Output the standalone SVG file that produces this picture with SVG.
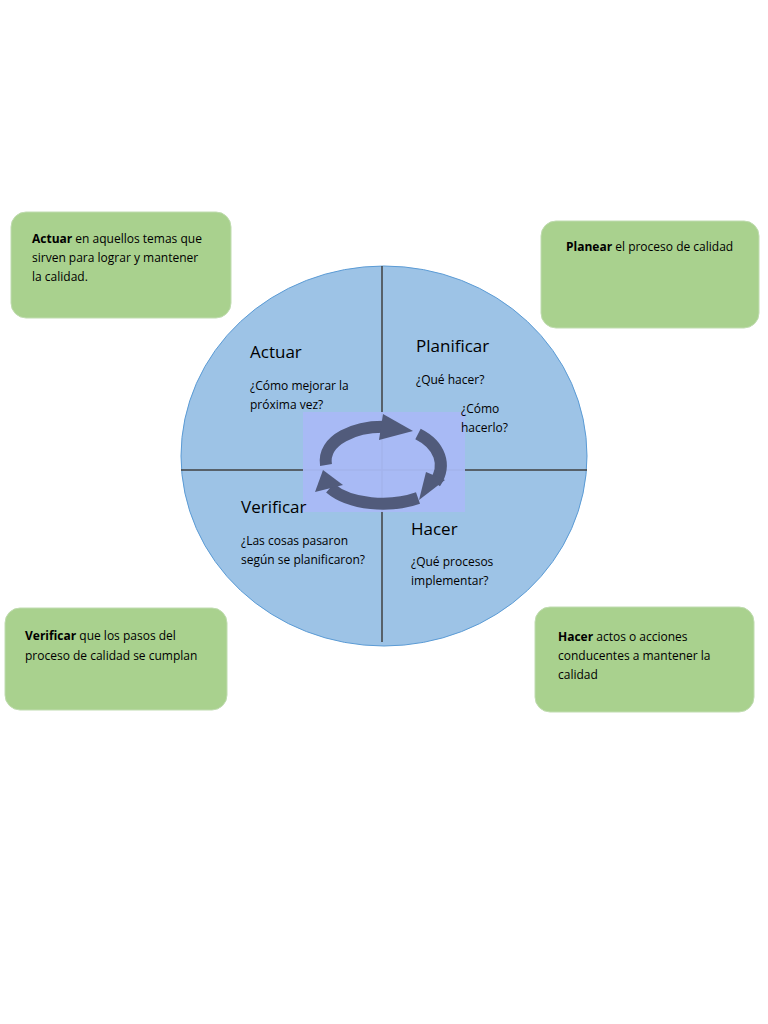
<svg xmlns="http://www.w3.org/2000/svg" width="768" height="1024" viewBox="0 0 768 1024">
<style>
.box{fill:#a9d18e;stroke:#c0dcb0;stroke-width:1}
.t{font-family:"Open Sans","Liberation Sans",sans-serif;font-size:12px;fill:#000}
.h{font-family:"Open Sans","Liberation Sans",sans-serif;font-size:17px;fill:#000}
.arc{fill:none;stroke:#515b7b;stroke-width:12}
.head{fill:#515b7b}
</style>
<rect width="768" height="1024" fill="#fff"/>
<g id="circle">
<ellipse cx="384" cy="456" rx="203" ry="190" fill="#9dc3e6" stroke="#5b9bd5" stroke-width="1"/>
<line x1="382" y1="266" x2="382" y2="642" stroke="#404040" stroke-width="1.5"/>
<line x1="181" y1="470" x2="587" y2="470" stroke="#404040" stroke-width="1.5"/>
</g>
<g id="center">
<rect x="303" y="412" width="162" height="100" fill="#a9b9f5" opacity="0.95"/>
<g id="connectors">
<path class="arc" d="M326,465 C322,440 355,425 390,427"/>
<polygon class="head" points="383,414 413,431 379,440"/>
<path class="arc" d="M418,434 C440,445 447,465 435,483"/>
<polygon class="head" points="445,480 419,500 426,472"/>
<path class="arc" d="M418,498 C390,508 350,505 330,488"/>
<polygon class="head" points="323,470 315,492 343,485"/>
</g>
</g>
<g id="actuar-q"><text class="h" x="250" y="358">Actuar</text><text class="t" x="250" y="390">¿Cómo mejorar la</text><text class="t" x="250" y="409">próxima vez?</text></g>
<g id="planificar-q"><text class="h" x="416" y="352">Planificar</text><text class="t" x="416" y="384">¿Qué hacer?</text><text class="t" x="461" y="413">¿Cómo</text><text class="t" x="461" y="432">hacerlo?</text></g>
<g id="verificar-q"><text class="h" x="241" y="513">Verificar</text><text class="t" x="241" y="545">¿Las cosas pasaron</text><text class="t" x="241" y="564">según se planificaron?</text></g>
<g id="hacer-q"><text class="h" x="411" y="535">Hacer</text><text class="t" x="411" y="566">¿Qué procesos</text><text class="t" x="411" y="585">implementar?</text></g>
<g id="box-actuar"><rect class="box" x="11" y="212" width="220" height="106" rx="15"/>
<text class="t" x="32" y="243"><tspan font-weight="bold">Actuar</tspan> en aquellos temas que</text><text class="t" x="32" y="262">sirven para lograr y mantener</text><text class="t" x="32" y="281">la calidad.</text></g>
<g id="box-planear"><rect class="box" x="541" y="221" width="218" height="107" rx="15"/>
<text class="t" x="566" y="251"><tspan font-weight="bold">Planear</tspan> el proceso de calidad</text></g>
<g id="box-verificar"><rect class="box" x="5" y="608" width="222" height="102" rx="15"/>
<text class="t" x="25" y="640"><tspan font-weight="bold">Verificar</tspan> que los pasos del</text><text class="t" x="25" y="660">proceso de calidad se cumplan</text></g>
<g id="box-hacer"><rect class="box" x="535" y="607" width="219" height="105" rx="15"/>
<text class="t" x="558" y="641"><tspan font-weight="bold">Hacer</tspan> actos o acciones</text><text class="t" x="558" y="660">conducentes a mantener la</text><text class="t" x="558" y="679">calidad</text></g>
</svg>
